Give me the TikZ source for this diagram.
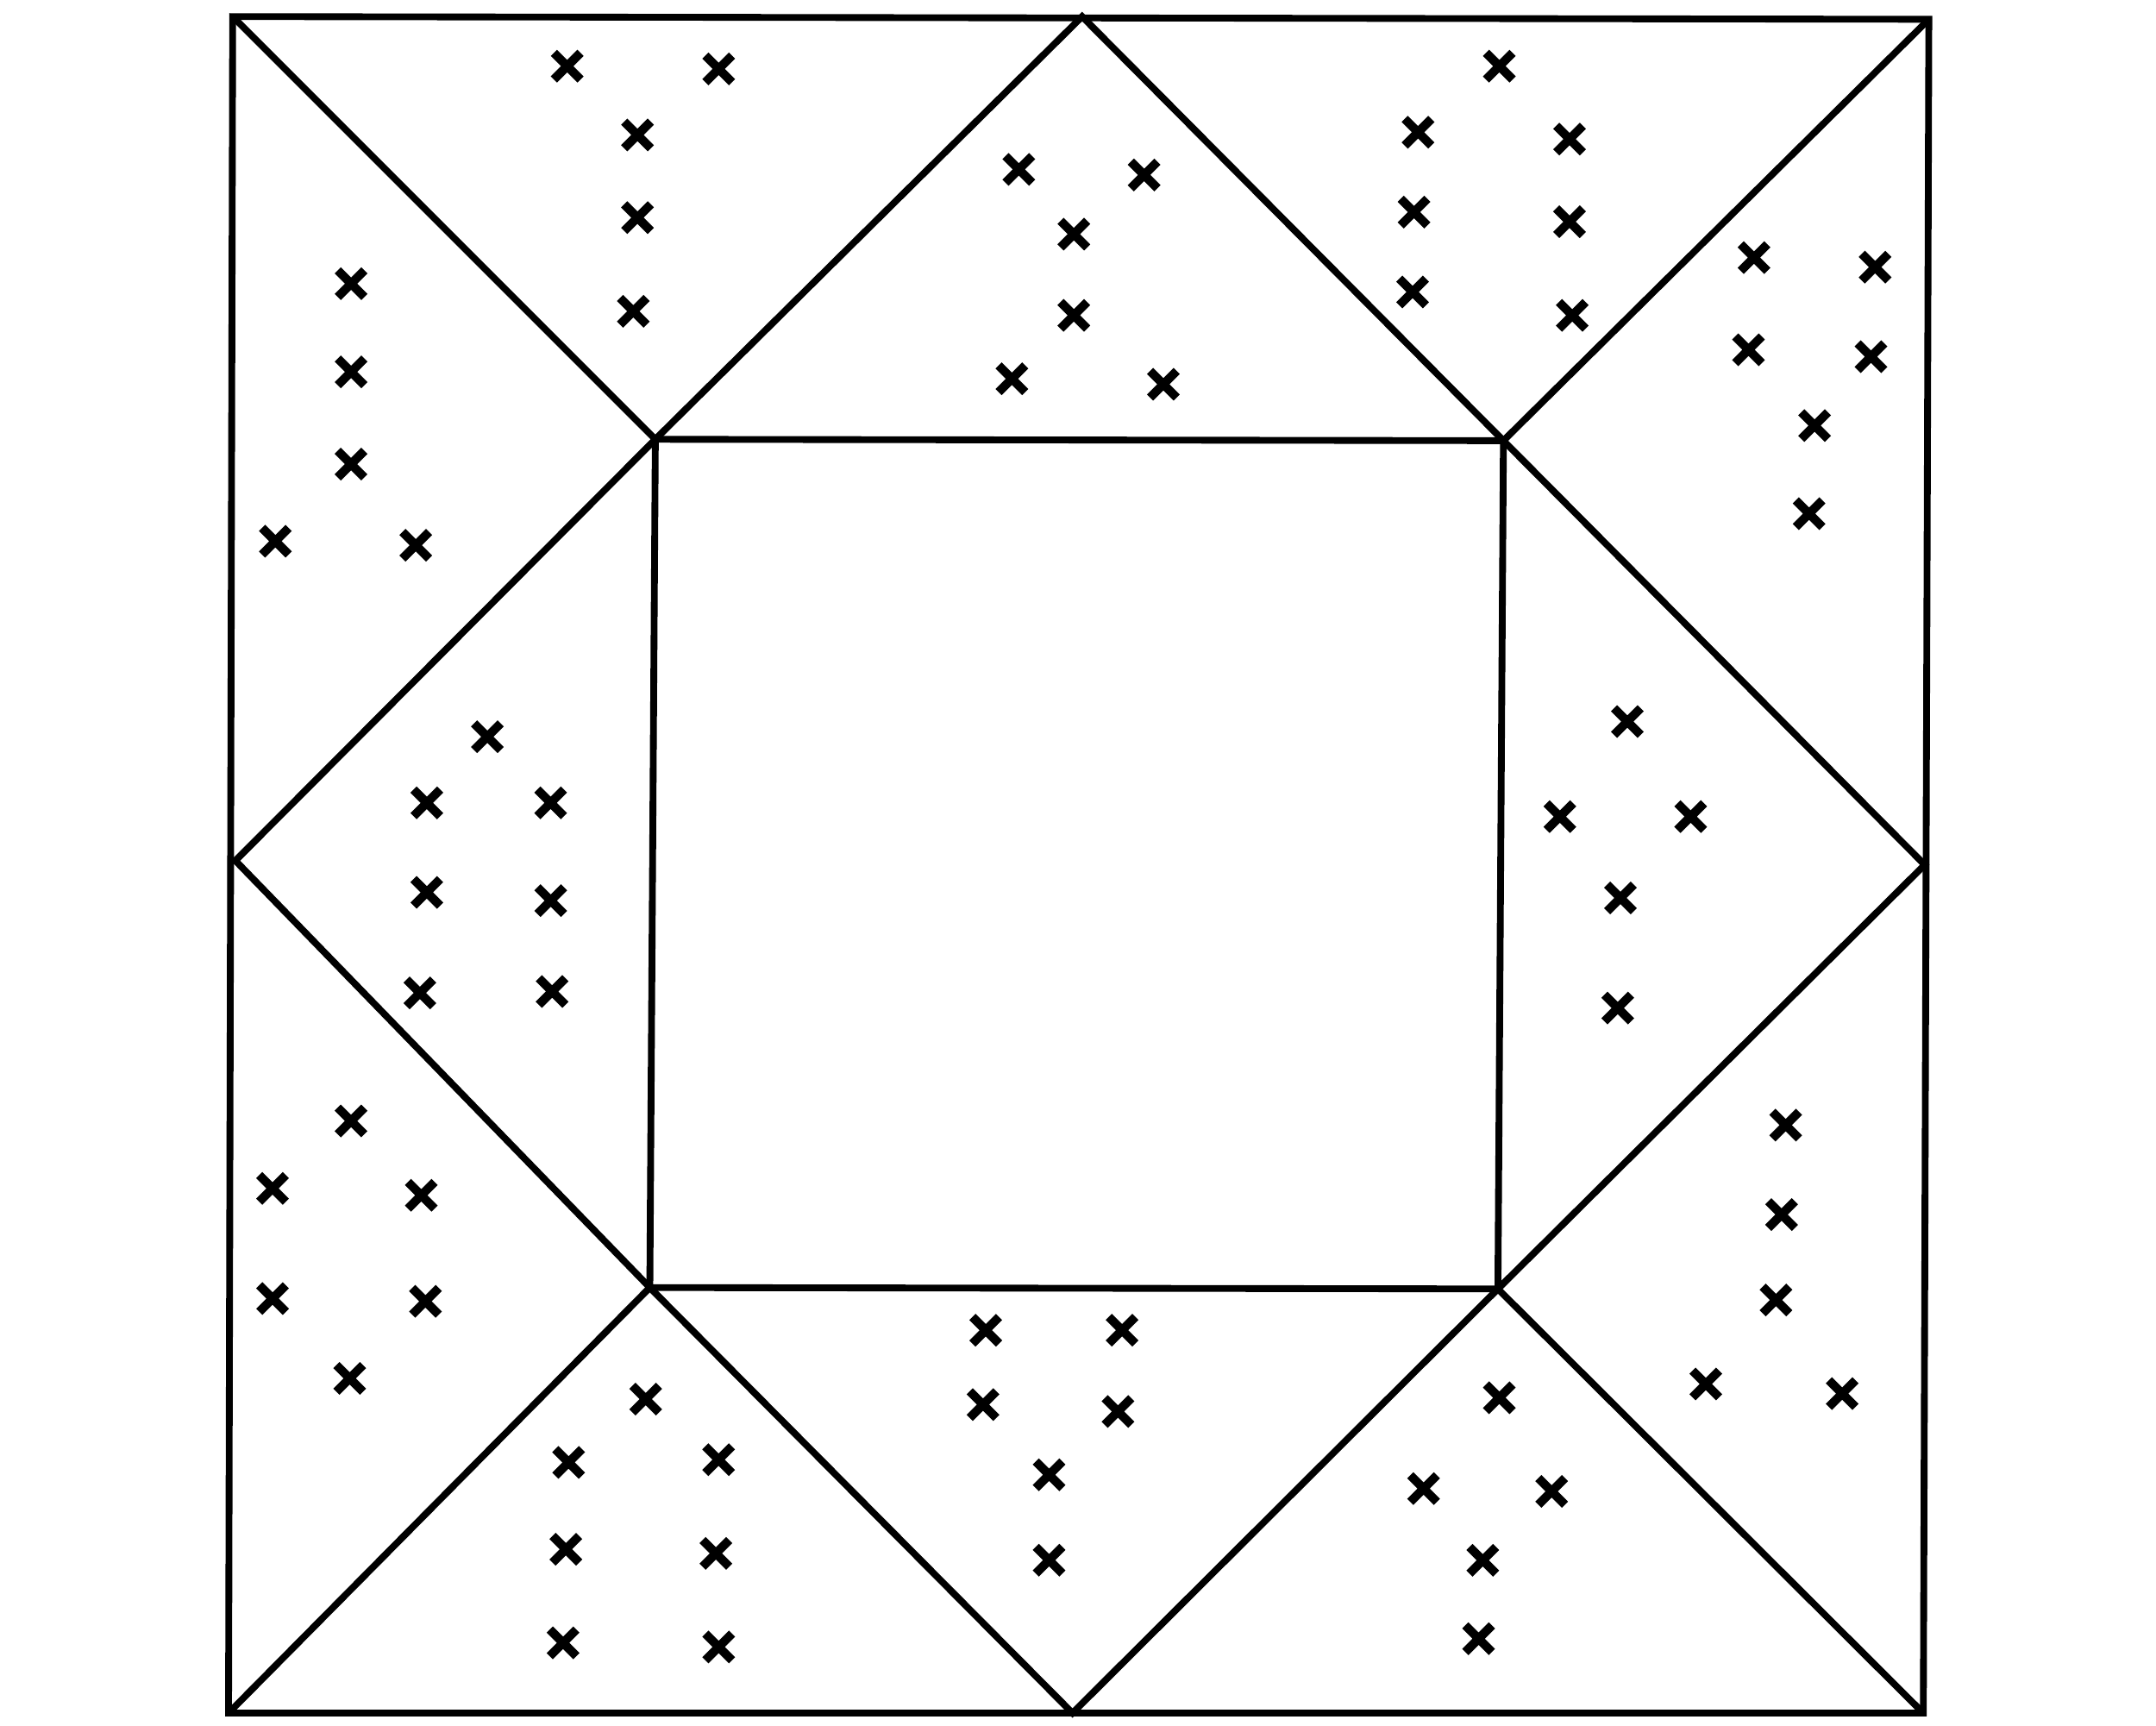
\documentclass[tikz,border=0pt]{standalone}
\usetikzlibrary{shapes.misc}
\begin{document}
\begin{tikzpicture}[x=0.01cm,y=-0.01cm,
  edge/.style={line width=1.4pt,line join=miter},
  xm/.style={cross out,draw,inner sep=0pt,minimum size=0.13cm,line width=1.8pt}]
\useasboundingbox (0,0) rectangle (1566,1253);
% outer square
\coordinate (TL) at (169,12);
\coordinate (TR) at (1401,14);
\coordinate (BR) at (1397,1244);
\coordinate (BL) at (166,1244);
% mid points of sides
\coordinate (T) at (786,12);
\coordinate (L) at (171,625);
\coordinate (R) at (1398,628);
\coordinate (B) at (779,1244);
% inner square
\coordinate (iTL) at (476,319);
\coordinate (iTR) at (1092,320);
\coordinate (iBR) at (1088,936);
\coordinate (iBL) at (472,935);
\draw[edge] (TL) -- (TR) -- (BR) -- (BL) -- cycle;
\draw[edge] (iTL) -- (iTR) -- (iBR) -- (iBL) -- cycle;
\draw[edge] (TL) -- (iTL);
\draw[edge] (TR) -- (iTR);
\draw[edge] (BR) -- (iBR);
\draw[edge] (BL) -- (iBL);
\draw[edge] (iTL) -- (T) -- (iTR);
\draw[edge] (iTL) -- (L) -- (iBL);
\draw[edge] (iTR) -- (R) -- (iBR);
\draw[edge] (iBL) -- (B) -- (iBR);
% crosses
\foreach \p [count=\i] in {
 (412,48),(522,50),(463,98),(463,158),(460,226),
 (255,206),(255,270),(255,337),(200,393),(302,396),
 (740,123),(831,127),(780,170),(780,229),(735,275),(845,279),
 (1089,48),(1030,96),(1140,101),(1027,154),(1140,161),(1026,212),(1142,229),
 (1274,187),(1362,194),(1270,254),(1359,259),(1318,309),(1314,373),
 (354,535),(310,583),(400,583),(310,648),(400,654),(305,721),(401,720),
 (1182,524),(1133,593),(1228,593),(1177,652),(1175,732),
 (255,814),(198,863),(306,868),(198,943),(309,945),(254,1001),
 (1297,817),(1294,882),(1290,944),(1239,1005),(1338,1012),
 (469,1016),(413,1062),(522,1060),(411,1125),(520,1128),(409,1193),(522,1196),
 (716,966),(815,966),(714,1020),(812,1025),(762,1071),(762,1133),
 (1089,1015),(1034,1081),(1127,1083),(1077,1133),(1074,1190)}
  \node[xm] (x\i) at \p {};
\end{tikzpicture}
\end{document}
